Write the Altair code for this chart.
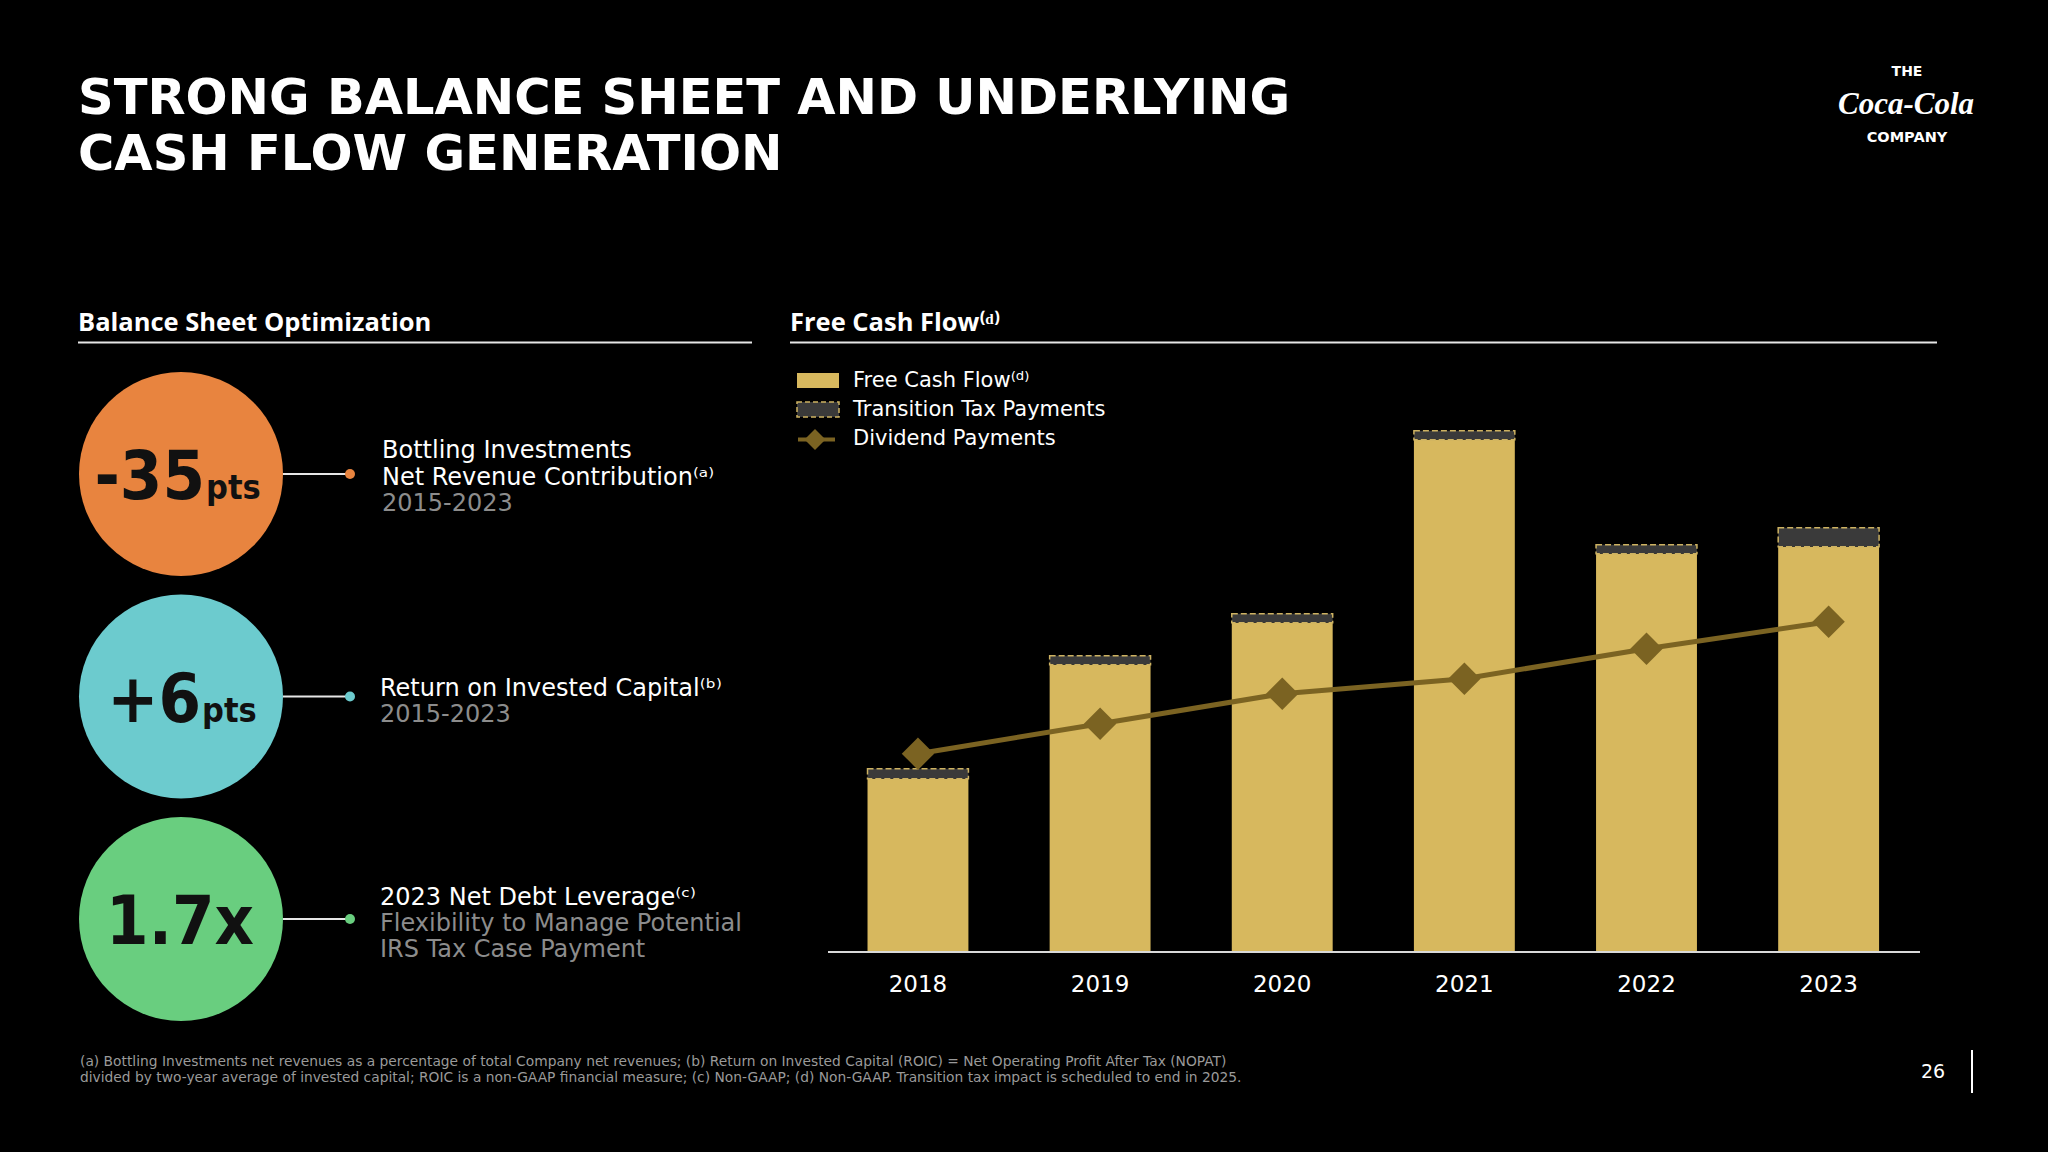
import altair as alt
import pandas as pd

# ---------------- data ----------------
years = ["2018", "2019", "2020", "2021", "2022", "2023"]
free_cash_flow = [17.3, 28.7, 32.9, 51.2, 39.8, 40.5]
transition_tax = [1.0, 0.9, 0.9, 0.9, 0.9, 1.9]
dividends = [19.8, 22.8, 25.8, 27.3, 30.3, 33.0]

legend_labels = ["Free Cash Flow⁽ᵈ⁾", "Transition Tax Payments", "Dividend Payments"]

kpi_keys = ["bottling", "roic", "leverage"]
kpi_values = ["-35", "+6", "1.7x"]
kpi_units = ["pts", "pts", ""]
kpi_titles = [
    ["Bottling Investments", "Net Revenue Contribution⁽ᵃ⁾"],
    ["Return on Invested Capital⁽ᵇ⁾"],
    ["2023 Net Debt Leverage⁽ᶜ⁾"],
]
kpi_notes = [
    ["2015-2023"],
    ["2015-2023"],
    ["Flexibility to Manage Potential", "IRS Tax Case Payment"],
]

title_lines = ["STRONG BALANCE SHEET AND UNDERLYING", "CASH FLOW GENERATION"]
left_header = "Balance Sheet Optimization"
right_header = "Free Cash Flow⁽ᵈ⁾"
footnotes = [
    "(a) Bottling Investments net revenues as a percentage of total Company net revenues; (b) Return on Invested Capital (ROIC) = Net Operating Profit After Tax (NOPAT)",
    "divided by two-year average of invested capital; ROIC is a non-GAAP financial measure; (c) Non-GAAP; (d) Non-GAAP. Transition tax impact is scheduled to end in 2025.",
]
page_number = "26"
logo_lines = ["THE", "Coca-Cola", "COMPANY"]

# ---------------- styles ----------------
W, H = 2048, 1152
GOLD = "#D7B85E"
TAX_FILL = "#3A3A3A"
TAX_EDGE = "#CDB262"
OLIVE = "#7B6322"
KPI_COLORS = ["#E8843F", "#6CCBCE", "#69CE7F"]
BODY = "DejaVu Sans"
HEAD = "Open Sans"
NARROW = "Liberation Sans Narrow, Noto Sans Condensed, DejaVu Sans Condensed, sans-serif"
SUB_GRAY = "#8C8C8C"

one = pd.DataFrame({"k": [0]})


def txt(s, x, y, size, color="white", weight="normal", font=BODY,
        align="left", baseline="alphabetic", style="normal"):
    return alt.Chart(pd.DataFrame({"t": [s]})).mark_text(
        fontSize=size, color=color, fontWeight=weight, font=font,
        align=align, baseline=baseline, fontStyle=style,
    ).encode(text="t:N", x=alt.value(x), y=alt.value(y))


def hrule(x1, x2, y, color="#E6E6E6", width=2):
    return alt.Chart(one).mark_rule(color=color, strokeWidth=width).encode(
        x=alt.value(x1), x2=alt.value(x2), y=alt.value(y))


layers = []

# ---------------- headline, logo, section headers ----------------
layers.append(txt(title_lines[0], 78, 114, 49.5, weight="bold"))
layers.append(txt(title_lines[1], 78, 170, 49.5, weight="bold"))

layers.append(txt(logo_lines[0], 1907, 76, 14, weight="bold", align="center"))
layers.append(txt(logo_lines[1], 1906, 114, 31, weight="bold", align="center",
                  font="Liberation Serif", style="italic"))
layers.append(txt(logo_lines[2], 1907, 142, 14.5, weight="bold", align="center"))

layers.append(txt(left_header, 78, 331, 25.5, weight="bold", font=HEAD))
layers.append(hrule(78, 752, 342.5))
layers.append(txt(right_header, 790, 331, 25.5, weight="bold", font=HEAD))
layers.append(hrule(790, 1937, 342.5))

# ---------------- KPI bubbles ----------------
kpi_df = pd.DataFrame({"kpi": kpi_keys})
kpi_y = alt.Y("kpi:N", axis=None,
              scale=alt.Scale(type="point", domain=kpi_keys, range=[474, 919], padding=0))
kpi_color = alt.Color("kpi:N", legend=None,
                      scale=alt.Scale(domain=kpi_keys, range=KPI_COLORS))

layers.append(alt.Chart(kpi_df).mark_circle(size=204 * 204, opacity=1).encode(
    x=alt.value(181), y=kpi_y, color=kpi_color))
layers.append(alt.Chart(kpi_df).mark_rule(color="#E6E6E6", strokeWidth=2).encode(
    x=alt.value(283), x2=alt.value(348), y=kpi_y))
layers.append(alt.Chart(kpi_df).mark_circle(size=100, opacity=1).encode(
    x=alt.value(350), y=kpi_y, color=kpi_color))

# big figures inside the bubbles
DARK = "#111111"
BIG, UNIT = 68, 34
layers.append(txt(kpi_values[0], 205, 499, BIG, color=DARK, weight="bold", font=NARROW, align="right"))
layers.append(txt(kpi_units[0], 206, 499, UNIT, color=DARK, weight="bold", font=NARROW))
layers.append(txt(kpi_values[1], 201, 722, BIG, color=DARK, weight="bold", font=NARROW, align="right"))
layers.append(txt(kpi_units[1], 202, 722, UNIT, color=DARK, weight="bold", font=NARROW))
layers.append(txt(kpi_values[2], 180, 944, BIG, color=DARK, weight="bold", font=NARROW, align="center"))

# descriptions next to the bubbles
DESC = 24
layers.append(txt(kpi_titles[0][0], 382, 458, DESC))
layers.append(txt(kpi_titles[0][1], 382, 485, DESC))
layers.append(txt(kpi_notes[0][0], 382, 511, DESC, color=SUB_GRAY))
layers.append(txt(kpi_titles[1][0], 380, 696, DESC))
layers.append(txt(kpi_notes[1][0], 380, 722, DESC, color=SUB_GRAY))
layers.append(txt(kpi_titles[2][0], 380, 905, DESC))
layers.append(txt(kpi_notes[2][0], 380, 931, DESC, color=SUB_GRAY))
layers.append(txt(kpi_notes[2][1], 380, 957, DESC, color=SUB_GRAY))

# ---------------- legend ----------------
layers.append(alt.Chart(one).mark_rect(color=GOLD).encode(
    x=alt.value(797), x2=alt.value(839), y=alt.value(373), y2=alt.value(388)))
layers.append(alt.Chart(one).mark_rect(fill=TAX_FILL, stroke=TAX_EDGE, strokeWidth=1.5,
                                       strokeDash=[5, 3]).encode(
    x=alt.value(797), x2=alt.value(839), y=alt.value(402), y2=alt.value(417)))
layers.append(hrule(798, 835, 439.5, color=OLIVE, width=4))
layers.append(alt.Chart(one).mark_point(shape="diamond", filled=True, size=440,
                                        color=OLIVE, opacity=1).encode(
    x=alt.value(815), y=alt.value(439.5)))
layers.append(txt(legend_labels[0], 853, 387, 21))
layers.append(txt(legend_labels[1], 853, 416, 21))
layers.append(txt(legend_labels[2], 853, 445, 21))

# ---------------- free cash flow chart ----------------
fcf_df = pd.DataFrame({"year": years, "fcf": free_cash_flow,
                       "tax": transition_tax, "div": dividends})

x_scale = alt.Scale(domain=years, range=[826.9, 1919.7],
                    paddingInner=0.446, paddingOuter=0.223)
y_scale = alt.Scale(domain=[0, 60], range=[951.7, 351.7], nice=False, zero=True)

base = alt.Chart(fcf_df)
x_band = alt.X("year:N", scale=x_scale, axis=None)
x_mid = alt.X("year:N", scale=x_scale, axis=None, bandPosition=0.5)

layers.append(base.mark_bar(color=GOLD).encode(
    x=x_band, y=alt.Y("fcf:Q", scale=y_scale, axis=None)))
layers.append(base.transform_calculate(top="datum.fcf + datum.tax").mark_bar(
    fill=TAX_FILL, stroke=TAX_EDGE, strokeWidth=1.5, strokeDash=[6, 3]).encode(
    x=x_band, y=alt.Y("fcf:Q", scale=y_scale, axis=None), y2="top:Q"))
layers.append(hrule(828, 1920, 952, color="#D9D9D9", width=2))
layers.append(base.mark_line(color=OLIVE, strokeWidth=5).encode(
    x=x_mid, y=alt.Y("div:Q", scale=y_scale, axis=None)))
layers.append(base.mark_point(shape="diamond", filled=True, size=1050,
                              color=OLIVE, opacity=1).encode(
    x=x_mid, y=alt.Y("div:Q", scale=y_scale, axis=None)))
layers.append(base.mark_text(fontSize=23, color="white", font=BODY,
                             baseline="alphabetic").encode(
    x=x_mid, y=alt.value(992), text="year:N"))

# ---------------- footer ----------------
layers.append(txt(footnotes[0], 80, 1066, 13.8, color="#9A9A9A"))
layers.append(txt(footnotes[1], 80, 1082, 13.8, color="#9A9A9A"))
layers.append(txt(page_number, 1933, 1078, 19, align="center"))
layers.append(alt.Chart(one).mark_rule(color="white", strokeWidth=2).encode(
    x=alt.value(1972), y=alt.value(1050), y2=alt.value(1093)))

chart = alt.layer(*layers).resolve_scale(
    y="independent", color="independent"
).properties(
    width=W, height=H, padding=0, autosize="none", background="black"
).configure_view(stroke=None)

chart.save("out.html", embed_options={"renderer": "svg", "actions": False})
